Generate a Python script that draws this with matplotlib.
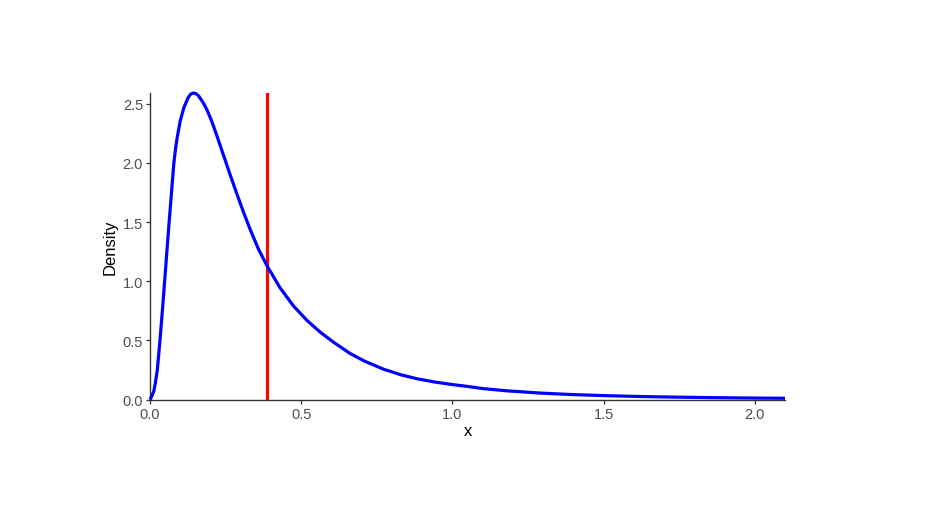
import matplotlib
matplotlib.use("Agg")
import matplotlib.pyplot as plt

plt.rcParams['font.family'] = ['Liberation Sans', 'DejaVu Sans']

x_vals = [0.000, 0.006, 0.013, 0.018, 0.024, 0.033, 0.041, 0.049, 0.057, 0.063,
          0.072, 0.079, 0.085, 0.090, 0.100, 0.112, 0.126, 0.134, 0.143, 0.152,
          0.160, 0.175, 0.188, 0.204, 0.221, 0.243, 0.265, 0.287, 0.309, 0.331,
          0.359, 0.386, 0.430, 0.475, 0.519, 0.563, 0.610, 0.662, 0.710, 0.773,
          0.830, 0.883, 0.940, 0.993, 1.050, 1.104, 1.18, 1.29, 1.40, 1.51,
          1.62, 1.73, 1.84, 1.95, 2.10]
density = [0.000, 0.030, 0.076, 0.145, 0.246, 0.500, 0.755, 1.020, 1.290, 1.490,
           1.780, 2.000, 2.130, 2.215, 2.355, 2.466, 2.550, 2.579, 2.590, 2.584,
           2.568, 2.512, 2.450, 2.353, 2.230, 2.065, 1.900, 1.740, 1.585, 1.440,
           1.270, 1.135, 0.945, 0.790, 0.670, 0.570, 0.480, 0.390, 0.325, 0.257,
           0.210, 0.177, 0.150, 0.130, 0.112, 0.093, 0.075, 0.056, 0.043, 0.034,
           0.027, 0.022, 0.018, 0.015, 0.012]
vline_x = 0.386
x_ticks = [0.0, 0.5, 1.0, 1.5, 2.0]
y_ticks = [0.0, 0.5, 1.0, 1.5, 2.0, 2.5]

fig = plt.figure(figsize=(9.25, 5.10), dpi=100)
ax = fig.add_axes([150/925, 1-400.7/510, (785-150)/925, (400.7-94)/510])

ax.plot(x_vals, density, color='#0000FF', lw=2.3, solid_capstyle='butt',
        solid_joinstyle='round', zorder=3, clip_on=False)
ax.axvline(vline_x, color='#FF0000', lw=2.3, zorder=2)

ax.set_xlim(0, max(x_vals))
ax.set_ylim(0, max(density))
ax.set_xticks(x_ticks)
ax.set_yticks(y_ticks)
ax.set_xticklabels([f"{t:.1f}" for t in x_ticks])
ax.set_yticklabels([f"{t:.1f}" for t in y_ticks])

for s in ['top', 'right']:
    ax.spines[s].set_visible(False)
for s in ['left', 'bottom']:
    ax.spines[s].set_color('#333333')
    ax.spines[s].set_linewidth(1.0)

ax.tick_params(axis='both', colors='#333333', length=3, width=0.9,
               labelsize=10.5, labelcolor='#4D4D4D', pad=2)
ax.set_xlabel('x', fontsize=12, color='black', labelpad=1.5)
ax.set_ylabel('Density', fontsize=12, color='black', labelpad=3.5)

fig.savefig('out.png', dpi=100)
